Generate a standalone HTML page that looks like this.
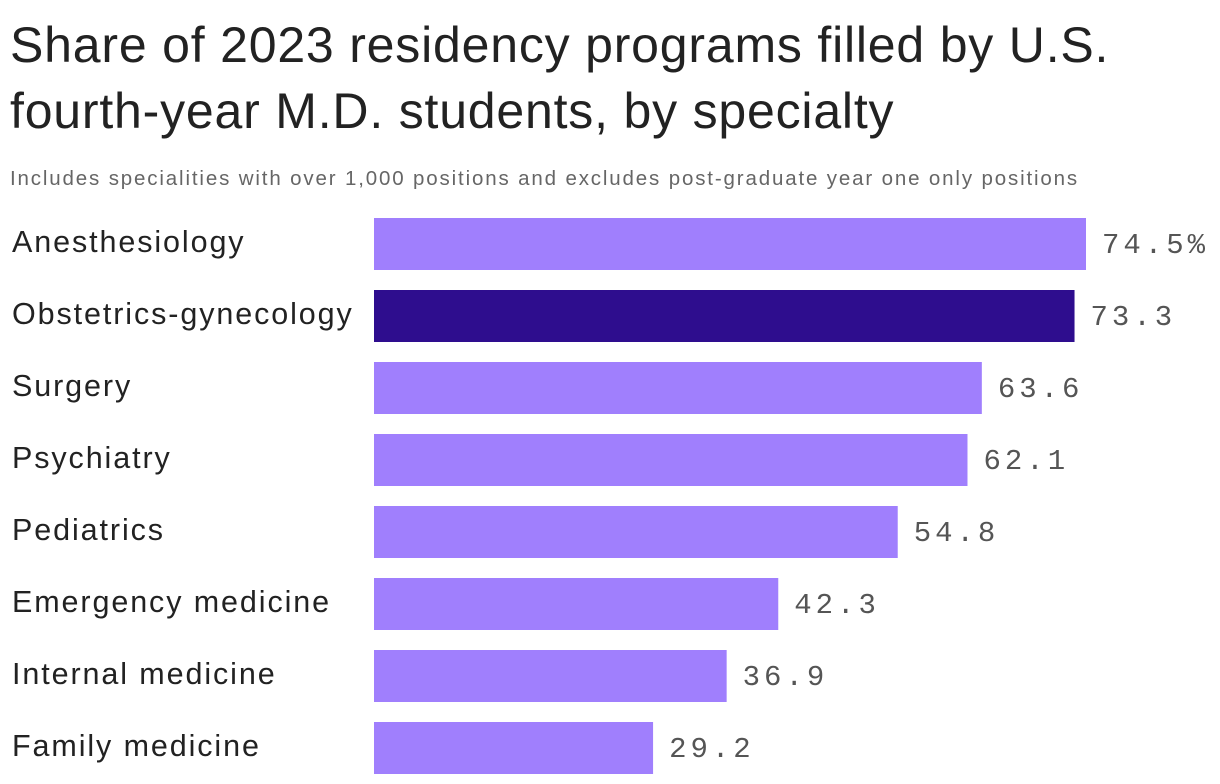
<!DOCTYPE html>
<html><head><meta charset="utf-8">
<style>
body{margin:0;background:#fff;width:1220px;height:784px;overflow:hidden;font-family:"Liberation Sans",sans-serif;}
h1{position:absolute;left:10px;top:12px;margin:0;font-size:50px;font-weight:normal;line-height:66px;color:#222;letter-spacing:0.8px;}
.sub{position:absolute;left:10px;top:167px;font-size:20.5px;color:#666;letter-spacing:1.85px;}
</style></head><body>
<h1>Share of 2023 residency programs filled by U.S.<br>fourth-year M.D. students, by specialty</h1>
<div class="sub">Includes specialities with over 1,000 positions and excludes post-graduate year one only positions</div>
<svg id="chart" width="1220" height="784" style="position:absolute;left:0;top:0"></svg>
<script>
const categories=["Anesthesiology","Obstetrics-gynecology","Surgery","Psychiatry","Pediatrics","Emergency medicine","Internal medicine","Family medicine"];
const values=[74.5,73.3,63.6,62.1,54.8,42.3,36.9,29.2];
const valueLabels=["74.5%","73.3","63.6","62.1","54.8","42.3","36.9","29.2"];
const highlight=["Obstetrics-gynecology"];
const svg=document.getElementById('chart');
const ns='http://www.w3.org/2000/svg';
const x0=374, xScale=v=>v*712/74.5;
const y=i=>218+i*72, bh=52;
categories.forEach((c,i)=>{
  const t=document.createElementNS(ns,'text');
  
  
  t.setAttribute('x',12);t.setAttribute('y',y(i)+34);
  t.setAttribute('font-size','30.5');t.setAttribute('fill','#222');
  t.setAttribute('letter-spacing','1.9');
  t.setAttribute('font-family','Liberation Sans, sans-serif');
  t.textContent=c;svg.appendChild(t);
  const r=document.createElementNS(ns,'rect');
  
  
  r.setAttribute('x',x0);r.setAttribute('y',y(i));
  r.setAttribute('width',xScale(values[i]));r.setAttribute('height',bh);
  r.setAttribute('fill',highlight.includes(c)?'#2e0d8e':'#a07ffd');
  svg.appendChild(r);
  const v=document.createElementNS(ns,'text');
  
  
  v.setAttribute('x',x0+xScale(values[i])+16);v.setAttribute('y',y(i)+35);
  v.setAttribute('font-size','29');v.setAttribute('fill','#555');
  v.setAttribute('letter-spacing','4');
  v.setAttribute('font-family','Liberation Mono, monospace');
  v.textContent=valueLabels[i];svg.appendChild(v);
});
</script>
</body></html>
